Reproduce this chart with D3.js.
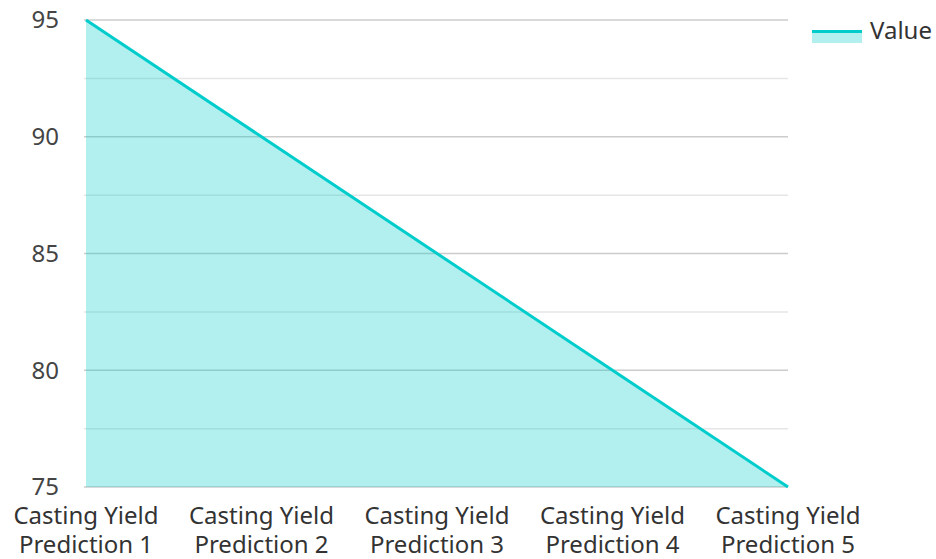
<!DOCTYPE html>
<html>
<head>
<meta charset="utf-8">
<script src="https://cdn.jsdelivr.net/npm/d3@7"></script>
<style>
  body { margin: 0; background: #fff; }
  svg { display: block; font-family: "Noto Sans", "Open Sans", sans-serif; }
</style>
</head>
<body>
<div id="container"></div>
<script>
const categories = [
  "Casting Yield Prediction 1",
  "Casting Yield Prediction 2",
  "Casting Yield Prediction 3",
  "Casting Yield Prediction 4",
  "Casting Yield Prediction 5"
];
const values = [95, 90, 85, 80, 75];
const majorTicks = [75, 80, 85, 90, 95];
const minorTicks = [77.5, 82.5, 87.5, 92.5];
const seriesName = "Value";

const chartWidth = 936, chartHeight = 559;
const plotLeft = 86, plotRight = 788, plotTop = 20, plotBottom = 487;

const svg = d3.select("#container").append("svg")
  .attr("width", chartWidth)
  .attr("height", chartHeight);

const x = d3.scalePoint().domain(categories).range([plotLeft, plotRight]);
const y = d3.scaleLinear().domain([75, 95]).range([plotBottom, plotTop]);

// grid lines
svg.append("g").selectAll("line.minor")
  .data(minorTicks).enter().append("line")
  .attr("x1", plotLeft - 2).attr("x2", plotRight)
  .attr("y1", d => y(d)).attr("y2", d => y(d))
  .attr("stroke", "#e6e6e6").attr("stroke-width", 1.5);

svg.append("g").selectAll("line.major")
  .data(majorTicks).enter().append("line")
  .attr("x1", plotLeft - 2).attr("x2", plotRight)
  .attr("y1", d => y(d)).attr("y2", d => y(d))
  .attr("stroke", "#cccccc").attr("stroke-width", 1.5);

// area + line
const area = d3.area()
  .x((d, i) => x(categories[i]))
  .y0(y(75))
  .y1(d => y(d));
svg.append("path").datum(values)
  .attr("d", area)
  .attr("fill", "rgba(0,204,204,0.3)");

const line = d3.line()
  .x((d, i) => x(categories[i]))
  .y(d => y(d));
svg.append("path").datum(values)
  .attr("d", line)
  .attr("fill", "none")
  .attr("stroke", "#00cccc")
  .attr("stroke-width", 3);

// y labels
svg.append("g").selectAll("text")
  .data(majorTicks).enter().append("text")
  .attr("x", 59)
  .attr("y", d => y(d))
  .attr("dy", "0.35em")
  .attr("text-anchor", "end")
  .attr("font-size", 24)
  .attr("fill", "#444")
  .text(d => d);

// x labels (two lines)
const xl = svg.append("g").selectAll("text")
  .data(categories).enter().append("text")
  .attr("x", d => x(d))
  .attr("y", 524)
  .attr("text-anchor", "middle")
  .attr("font-size", 24)
  .attr("fill", "#333");
xl.append("tspan").attr("x", d => x(d)).text(d => d.split(" Prediction")[0]);
xl.append("tspan").attr("x", d => x(d)).attr("dy", 29).text(d => "Prediction" + d.split(" Prediction")[1]);

// legend
const lg = svg.append("g");
lg.append("rect").attr("x", 812).attr("y", 31).attr("width", 50).attr("height", 12)
  .attr("fill", "rgba(0,204,204,0.3)");
lg.append("line").attr("x1", 812).attr("x2", 862).attr("y1", 31.5).attr("y2", 31.5)
  .attr("stroke", "#00cccc").attr("stroke-width", 3);
lg.append("text").attr("x", 870).attr("y", 31).attr("dy", "0.35em")
  .attr("font-size", 24).attr("fill", "#333").text(seriesName);
</script>
</body>
</html>
